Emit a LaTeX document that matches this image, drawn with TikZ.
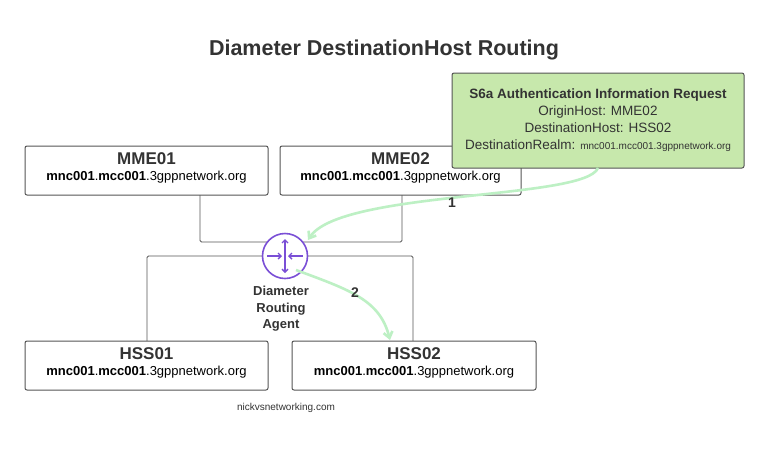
\documentclass[tikz,border=0pt]{standalone}
\usepackage{fontspec}
\setmainfont{Liberation Sans}
\usetikzlibrary{arrows.meta}
\definecolor{txt}{HTML}{333333}
\definecolor{edge}{HTML}{555555}
\definecolor{gfill}{HTML}{C7E8AC}
\definecolor{garrow}{HTML}{BDF0C4}
\definecolor{purp}{HTML}{7A4FD6}
\begin{document}
\begin{tikzpicture}[x=1pt,y=-1pt,
  box/.style={draw=edge,line width=1pt,rounded corners=2pt,fill=white,inner sep=0pt},
  line/.style={draw=edge,line width=0.9pt,rounded corners=1.5pt},
  flow/.style={draw=garrow,line width=2.6pt,-{Straight Barb[length=6pt,width=9pt]}},
  lbl/.style={text=txt,font=\bfseries\fontsize{14}{16}\selectfont}]
\useasboundingbox[fill=white] (0,0) rectangle (768,451);
\node[text=txt,font=\bfseries\fontsize{21.5}{25}\selectfont] (title) at (384,50) {Diameter DestinationHost Routing};
% connecting lines
\draw[line] (200,195) -- (200,242) -- (402,242) -- (402,195);
\draw[line] (147,341) -- (147,256) -- (413,256) -- (413,341);
% boxes
\node[box,minimum width=243pt,minimum height=49pt] (mme1) at (146.5,170.5) {};
\node[box,minimum width=241pt,minimum height=49pt] (mme2) at (400.5,170.5) {};
\node[box,minimum width=243pt,minimum height=49pt] (hss1) at (146.5,365.5) {};
\node[box,minimum width=244pt,minimum height=49pt] (hss2) at (414,365.5) {};
\foreach \n/\t in {mme1/MME01,mme2/MME02,hss1/HSS01,hss2/HSS02}{
  \node[text=txt,font=\bfseries\fontsize{17}{19}\selectfont,anchor=center] at ([yshift=11.5pt]\n.center) {\t};
  \node[text=black,font=\fontsize{13}{15}\selectfont,anchor=center] at ([yshift=-7pt]\n.center) {\textbf{mnc001}.\textbf{mcc001}.3gppnetwork.org};
}
% green box
\node[box,fill=gfill,minimum width=292pt,minimum height=95pt] (req) at (598,120.5) {};
\node[text=txt,align=center,font=\fontsize{13.5}{17}\selectfont] (reqt) at (598,120) {\textbf{S6a Authentication Information Request}\\OriginHost: MME02\\DestinationHost: HSS02\\DestinationRealm: {\fontsize{10}{11}\selectfont mnc001.mcc001.3gppnetwork.org}};
% router
\node[circle,draw=purp,line width=1.6pt,fill=white,minimum size=45pt,inner sep=0pt] (dra) at (285,256) {};
\draw[purp,line width=1.4pt,{Straight Barb[length=3pt,width=6pt]}-{Straight Barb[length=3pt,width=6pt]}] ([yshift=-17pt]dra.center) -- ([yshift=17pt]dra.center);
\draw[purp,line width=1.4pt,-{Straight Barb[length=3pt,width=6pt]}] ([xshift=-18pt]dra.center) -- ([xshift=-3pt]dra.center);
\draw[purp,line width=1.4pt,-{Straight Barb[length=3pt,width=6pt]}] ([xshift=18pt]dra.center) -- ([xshift=3pt]dra.center);
\node[text=txt,align=center,font=\bfseries\fontsize{13}{16.5}\selectfont] (dral) at (281,309) {Diameter\\Routing\\Agent};
% flows
\coordinate (s1) at (598,168);
\coordinate (e1) at (308,240);
\draw[flow] (s1) .. controls (585,200) and (340,190) .. (e1);
\node[lbl] (l1) at (452,203) {1};
\coordinate (s2) at (296,270);
\coordinate (e2) at (390,340);
\draw[flow] (s2) .. controls (350,290) and (380,300) .. (e2);
\node[lbl] (l2) at (355,293) {2};
\node[text=txt,font=\fontsize{10}{12}\selectfont] (foot) at (286,408) {nickvsnetworking.com};
\end{tikzpicture}
\end{document}
